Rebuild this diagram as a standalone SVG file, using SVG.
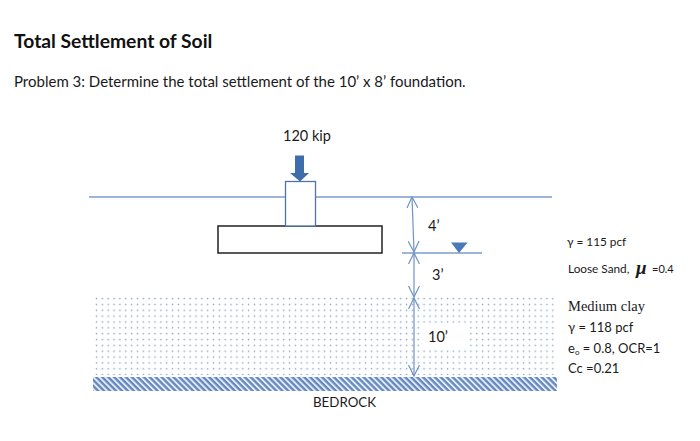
<svg xmlns="http://www.w3.org/2000/svg" width="700" height="441" viewBox="0 0 700 441">
<style>
text{font-family:"Lato","Open Sans",sans-serif;fill:#1a1a1a;font-size:14px}
.s{font-size:11.8px}
.c{font-size:13px}
.d{font-size:14.5px}
.serif{font-family:"Liberation Serif",serif}
.blue{stroke:#7d9ec9;stroke-width:1.4;fill:none}
.dim{stroke:#6e93c4;stroke-width:1.2;fill:none}
</style>
<defs>
<pattern id="dots" width="5.85" height="5.85" patternUnits="userSpaceOnUse" x="95" y="297">
<circle cx="1.5" cy="1.5" r="0.85" fill="#8ba7cf"/>
</pattern>
<pattern id="hatch" width="4.2" height="4.2" patternUnits="userSpaceOnUse" patternTransform="rotate(45)">
<rect width="4.2" height="4.2" fill="#e6ecf6"/>
<rect width="4.2" height="2.300" fill="#6288bf"/>
</pattern>
<marker id="open" viewBox="0 0 12 12" refX="11" refY="6" markerWidth="12" markerHeight="12" orient="auto-start-reverse" markerUnits="userSpaceOnUse">
<path d="M0 0.5L11 6L0 11.5" fill="none" stroke="#6e93c4" stroke-width="1.2"/>
</marker>
</defs>
<rect width="700" height="441" fill="#fff"/>
<text id="title" x="14" y="48" style="font-size:19.3px;font-weight:700;fill:#111">Total Settlement of Soil</text>
<text id="problem" x="14" y="87" style="font-size:15px">Problem 3: Determine the total settlement of the 10’ x 8’ foundation.</text>
<g id="soil">
<rect x="95" y="297" width="459" height="78" fill="url(#dots)"/>
<rect x="423" y="323" width="45" height="27" fill="#fff"/>
</g>
<g id="bedrock">
<rect x="93" y="377" width="464" height="14" fill="url(#hatch)"/>
<text x="344.500" y="407" text-anchor="middle" style="font-size:13.300px">BEDROCK</text>
</g>
<g id="connectors">
<line class="blue" x1="89" y1="197" x2="285" y2="197"/>
<line class="blue" x1="316" y1="197" x2="552" y2="197"/>
<line class="blue" x1="402" y1="253" x2="482" y2="253"/>
<line class="dim" x1="412" y1="197" x2="414" y2="252" marker-start="url(#open)" marker-end="url(#open)"/>
<line class="dim" x1="414" y1="253" x2="414" y2="297" marker-start="url(#open)" marker-end="url(#open)"/>
<line class="dim" x1="414" y1="298" x2="414" y2="376" marker-start="url(#open)" marker-end="url(#open)"/>
</g>
<g id="footing">
<rect x="218" y="226" width="164" height="27" fill="#fff" stroke="#222" stroke-width="1.500"/>
<rect x="285.500" y="181.500" width="30" height="44.500" fill="#fff" stroke="#4f75a8" stroke-width="1.300"/>
</g>
<g id="load">
<text x="307" y="141" text-anchor="middle" style="font-size:14.500px">120 kip</text>
<path d="M295 155.500H304V173H309L300 181.500L290 173H295Z" fill="#3f6cab"/>
</g>
<g id="water-table"><path d="M451 242.500H467.500L459 253Z" fill="#4a78b8"/></g>
<g id="dim-labels">
<text class="d" x="428" y="231">4’</text>
<text class="d" x="432" y="280">3’</text>
<text class="d" x="428" y="342">10’</text>
</g>
<g id="sand-props">
<text class="s" x="567" y="246">γ = 115 pcf</text>
<text class="s" x="568" y="273">Loose Sand,</text>
<text class="serif" x="636" y="274" style="font-style:italic;font-weight:700;font-size:19px">μ</text>
<text class="s" x="652" y="273" style="font-size:11px">=0.4</text>
</g>
<g id="clay-props">
<text class="serif" x="568" y="311" style="font-size:14.500px">Medium clay</text>
<text class="c" x="568" y="332">γ = 118 pcf</text>
<text class="c" x="568" y="353">e<tspan font-size="8" dy="2">o</tspan><tspan dy="-2"> = 0.8, OCR=1</tspan></text>
<text class="c" x="568" y="373">Cc =0.21</text>
</g>
</svg>
